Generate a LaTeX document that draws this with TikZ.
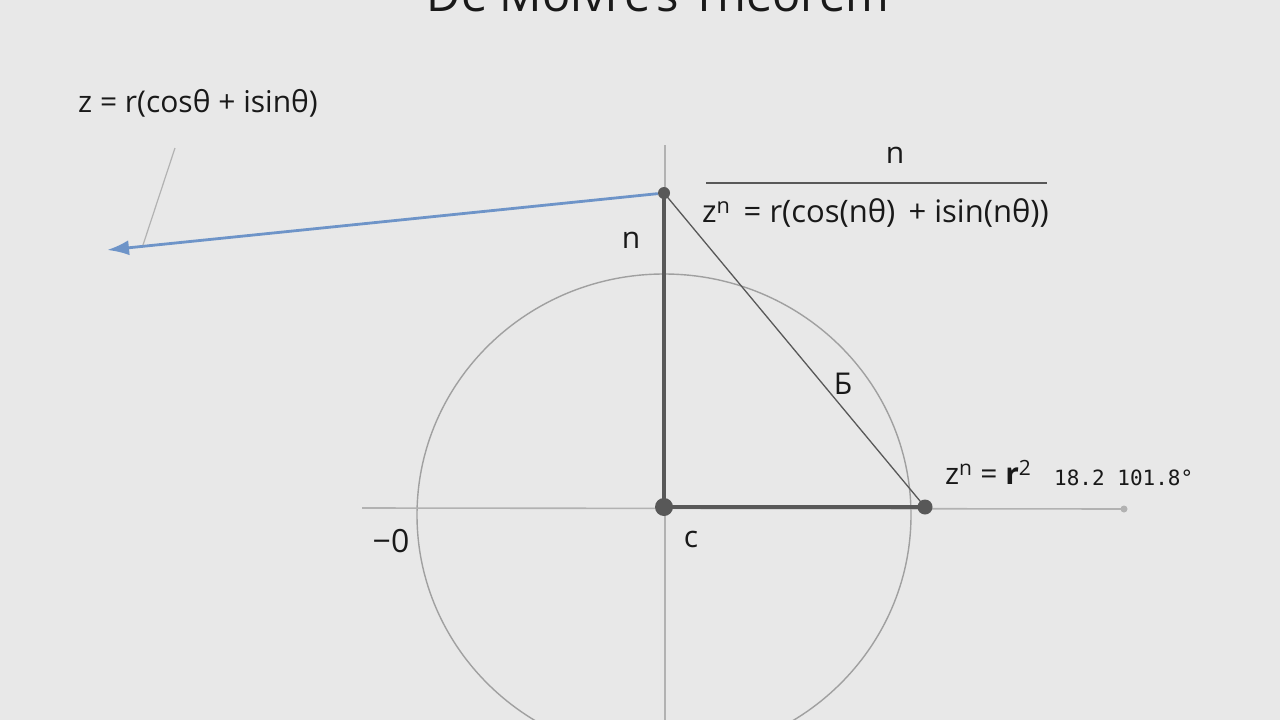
\documentclass[tikz,border=0pt]{standalone}
\usepackage{fontspec}
\usetikzlibrary{arrows.meta}
\setmainfont{Open Sans}
\newfontfamily\monof{DejaVu Sans Mono}
\definecolor{bg}{RGB}{232,232,232}
\definecolor{axisc}{RGB}{178,178,178}
\definecolor{circc}{RGB}{160,160,160}
\definecolor{darkc}{RGB}{88,88,88}
\definecolor{bluec}{RGB}{110,148,200}
\definecolor{txt}{RGB}{25,25,25}
\begin{document}
\begin{tikzpicture}[x=1pt,y=-1pt,
  axis/.style={axisc,line width=1.6pt},
  thick line/.style={darkc,line width=4pt},
  thin line/.style={darkc,line width=1.3pt},
  dot/.style={circle,fill=darkc,inner sep=0pt,minimum size=14pt},
  lbl/.style={text=txt,inner sep=0pt,font=\fontsize{30}{34}\selectfont}]
\fill[bg] (0,0) rectangle (1280,720);
\useasboundingbox (0,0) rectangle (1280,720);
% title
\node[text=txt,anchor=base,inner sep=0pt,font=\fontsize{47}{52}\selectfont] (title) at (658,12) {De Moivre's Theorem};
% circle
\draw[circc,line width=1.4pt] (664,515) ellipse [x radius=247, y radius=241];
% axes
\coordinate (xl) at (362,508);
\coordinate (xr) at (1124,509);
\coordinate (yt) at (665,145);
\coordinate (yb) at (665,720);
\draw[axis] (xl) -- (xr);
\draw[axis] (yt) -- (yb);
\node[circle,fill=axisc,inner sep=0pt,minimum size=7pt] (xend) at (xr) {};
% points
\coordinate (P) at (664,193);
\coordinate (O) at (664,507);
\coordinate (Q) at (925,507);
\draw[thin line] (P) -- (Q);
\draw[thick line] (P) -- (O) -- (Q);
\node[dot,minimum size=12pt] (Pd) at (P) {};
\node[dot,minimum size=18pt] (Od) at (O) {};
\node[dot,minimum size=15pt] (Qd) at (Q) {};
% blue arrow
\coordinate (A) at (107,250);
\draw[bluec,line width=2.8pt,-{Latex[length=22pt,width=15pt]}] (Pd) -- (A);
% thin gray line
\coordinate (g1) at (175,148);
\coordinate (g2) at (143,245);
\draw[axisc,line width=1.2pt] (g1) -- (g2);
% labels
\node[lbl,anchor=west] (z) at (78,103) {z = r(cosθ + isinθ)};
\node[lbl] (nt) at (895,155) {n};
\coordinate (fl) at (706,183);
\coordinate (fr) at (1047,183);
\draw[darkc,line width=1.3pt] (fl) -- (fr);
\node[lbl,anchor=west,font=\fontsize{31}{35}\selectfont] (zn) at (702,213) {z\textsuperscript{n}\, = r(cos(nθ) \,+ isin(nθ))};
\node[lbl] (n2) at (631,240) {n};
\node[lbl] (b) at (843,384) {Б};
\node[lbl,anchor=west] (zr) at (945,472) {z\textsuperscript{n} = \textbf{r}\textsuperscript{2}};
\node[text=txt,anchor=west,inner sep=0pt,font=\monof\fontsize{21}{24}\selectfont] (num) at (1054,478) {18.2 101.8°};
\node[lbl,font=\fontsize{32}{36}\selectfont] (m0) at (391,541) {−0};
\node[lbl] (c) at (691,539) {c};
\end{tikzpicture}
\end{document}
